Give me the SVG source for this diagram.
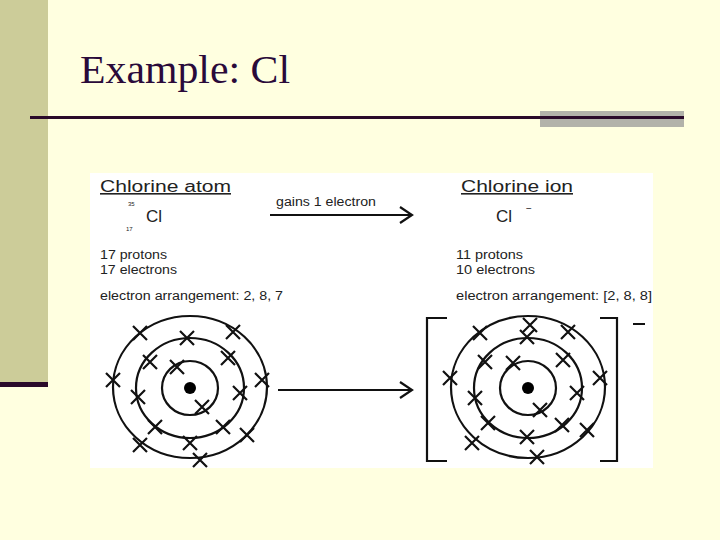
<svg xmlns="http://www.w3.org/2000/svg" width="720" height="540" viewBox="0 0 720 540">
<defs>
<style>
.s{font-family:"Liberation Sans",Arial,sans-serif;fill:#222}
.sh{fill:none;stroke:#111;stroke-width:2.2}
.x{stroke:#111;stroke-width:2.2;fill:none}
</style>
<path id="X" d="M-7,-7L7,7M-7,7L7,-7" class="x"/>
</defs>
<rect width="720" height="540" fill="#ffffe0"/>
<rect x="0" y="0" width="48" height="382" fill="#cccc99"/>
<rect x="0" y="382" width="48" height="5" fill="#2a0a2a"/>
<rect x="540" y="111" width="144" height="16" fill="#b2b2aa"/>
<rect x="30" y="116" width="654" height="3" fill="#2a0a2a"/>
<text x="80" y="83" font-family="Liberation Serif,serif" font-size="40" textLength="210" lengthAdjust="spacingAndGlyphs" fill="#2a0a3a">Example: Cl</text>
<rect x="90" y="173" width="563" height="295" fill="#ffffff"/>
<g id="labels">
<text class="s" x="100" y="192" font-size="16" textLength="131" lengthAdjust="spacingAndGlyphs" text-decoration="underline">Chlorine atom</text>
<text class="s" x="128" y="206" font-size="6">35</text>
<text class="s" x="146" y="222" font-size="17">Cl</text>
<text class="s" x="126" y="231" font-size="6">17</text>
<text class="s" x="100" y="259" font-size="12" textLength="67" lengthAdjust="spacingAndGlyphs">17 protons</text>
<text class="s" x="100" y="274" font-size="12" textLength="77" lengthAdjust="spacingAndGlyphs">17 electrons</text>
<text class="s" x="100" y="300" font-size="12" textLength="183" lengthAdjust="spacingAndGlyphs">electron arrangement: 2, 8, 7</text>
<text class="s" x="276" y="206" font-size="12" textLength="100" lengthAdjust="spacingAndGlyphs">gains 1 electron</text>
<text class="s" x="461" y="192" font-size="16" textLength="112" lengthAdjust="spacingAndGlyphs" text-decoration="underline">Chlorine ion</text>
<text class="s" x="496" y="222" font-size="17">Cl</text>
<text class="s" x="526" y="212" font-size="10">−</text>
<text class="s" x="456" y="259" font-size="12" textLength="67" lengthAdjust="spacingAndGlyphs">11 protons</text>
<text class="s" x="456" y="274" font-size="12" textLength="79" lengthAdjust="spacingAndGlyphs">10 electrons</text>
<text class="s" x="456" y="300" font-size="12" textLength="196" lengthAdjust="spacingAndGlyphs">electron arrangement: [2, 8, 8]</text>
</g>
<g id="connectors" class="sh">
<path d="M270,215H412M400,207L412,215L400,223"/>
<path d="M278,390H412M400,382L412,390L400,398"/>
</g>
<g id="atom">
<circle cx="190" cy="388" r="6" fill="#000"/>
<ellipse class="sh" cx="190" cy="388" rx="28" ry="27"/>
<ellipse class="sh" cx="190" cy="388" rx="54" ry="50"/>
<ellipse class="sh" cx="190" cy="387" rx="77" ry="71"/>
<use href="#X" x="140" y="333"/><use href="#X" x="233" y="332"/><use href="#X" x="113" y="380"/><use href="#X" x="262" y="380"/><use href="#X" x="140" y="445"/><use href="#X" x="247" y="435"/><use href="#X" x="200" y="460"/>
<use href="#X" x="187" y="338"/><use href="#X" x="150" y="362"/><use href="#X" x="228" y="358"/><use href="#X" x="138" y="397"/><use href="#X" x="240" y="393"/><use href="#X" x="155" y="427"/><use href="#X" x="190" y="443"/><use href="#X" x="223" y="427"/>
<use href="#X" x="177" y="367"/><use href="#X" x="202" y="407"/>
</g>
<g id="ion">
<circle cx="528" cy="388" r="6" fill="#000"/>
<ellipse class="sh" cx="528" cy="388" rx="28" ry="27"/>
<ellipse class="sh" cx="528" cy="388" rx="54" ry="50"/>
<ellipse class="sh" cx="528" cy="387" rx="77" ry="71"/>
<use href="#X" x="480" y="333"/><use href="#X" x="530" y="325"/><use href="#X" x="568" y="332"/><use href="#X" x="450" y="378"/><use href="#X" x="600" y="378"/><use href="#X" x="472" y="443"/><use href="#X" x="537" y="457"/><use href="#X" x="587" y="430"/>
<use href="#X" x="527" y="337"/><use href="#X" x="485" y="362"/><use href="#X" x="563" y="360"/><use href="#X" x="475" y="398"/><use href="#X" x="577" y="393"/><use href="#X" x="488" y="423"/><use href="#X" x="527" y="437"/><use href="#X" x="562" y="425"/>
<use href="#X" x="513" y="363"/><use href="#X" x="540" y="410"/>
<path class="sh" d="M447,318H427V461H447M600,318H617V461H600M633,324H645"/>
</g>
</svg>
